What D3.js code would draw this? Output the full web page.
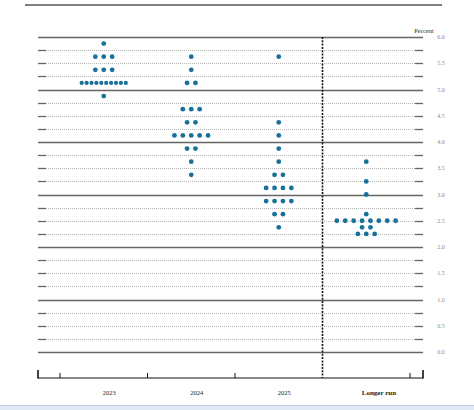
<!DOCTYPE html>
<html>
<head>
<meta charset="utf-8">
<script src="https://cdn.jsdelivr.net/npm/d3@7"></script>
<style>
  body { margin: 0; background: #fff; }
  svg { display: block; }
</style>
</head>
<body>
<div id="chart"></div>
<script>
// Categories on the x axis
const categories = ["2023", "2024", "2025", "Longer run"];

// One entry per participant dot (midpoint of target range, percent)
const rates2023 = [5.875, 5.625, 5.625, 5.625, 5.375, 5.375, 5.375,
    5.125, 5.125, 5.125, 5.125, 5.125, 5.125, 5.125, 5.125, 5.125, 5.125, 4.875];
const rates2024 = [5.625, 5.375, 5.125, 5.125, 4.625, 4.625, 4.625, 4.375, 4.375,
    4.125, 4.125, 4.125, 4.125, 4.125, 3.875, 3.875, 3.625, 3.375];
const rates2025 = [5.625, 4.375, 4.125, 3.875, 3.625, 3.375, 3.375,
    3.125, 3.125, 3.125, 3.125, 2.875, 2.875, 2.875, 2.875, 2.625, 2.625, 2.375];
const ratesLonger = [3.625, 3.25, 3.0, 2.625, 2.5, 2.5, 2.5, 2.5, 2.5, 2.5, 2.5, 2.5,
    2.375, 2.375, 2.25, 2.25, 2.25];

const seriesList = [rates2023, rates2024, rates2025, ratesLonger];

// Tick labels on the right
const tickValues = [0, 0.5, 1, 1.5, 2, 2.5, 3, 3.5, 4, 4.5, 5, 5.5, 6];
const tickLabels = ["0.0", "0.5", "1.0", "1.5", "2.0", "2.5", "3.0", "3.5", "4.0", "4.5", "5.0", "5.5", "6.0"];

const width = 474, height = 410;
const serif = "'Liberation Serif', 'DejaVu Serif', serif";
const dotColor = "#19709c";

const svg = d3.select("#chart")
    .append("svg")
    .attr("width", width)
    .attr("height", height);

// scales
const x = d3.scaleBand()
    .domain(categories)
    .range([60, 410])
    .padding(0);

const y = d3.scaleLinear()
    .domain([0, 6])
    .range([352, 37]);

const gridLeft = 38, gridRight = 423;

// top rule
svg.append("line")
    .attr("x1", 25).attr("x2", 442)
    .attr("y1", 5).attr("y2", 5)
    .attr("stroke", "#555")
    .attr("stroke-width", 1.5);

// grid lines every quarter point
const gridValues = d3.range(0, 24 + 1).map(i => i * 0.25);

const grid = svg.append("g");
gridValues.forEach(v => {
    const yy = Math.round(y(v)) + 0.5;
    if (Number.isInteger(v)) {
        grid.append("line")
            .attr("x1", gridLeft).attr("x2", gridRight)
            .attr("y1", yy).attr("y2", yy)
            .attr("stroke", "#666")
            .attr("stroke-width", 1.3);
    } else {
        grid.append("line")
            .attr("x1", gridLeft + 8).attr("x2", gridRight - 8)
            .attr("y1", yy).attr("y2", yy)
            .attr("stroke", "#a5a5a5")
            .attr("stroke-width", 0.8)
            .attr("stroke-dasharray", "1,1");
        // short dark ends
        [[gridLeft, gridLeft + 8], [gridRight - 8, gridRight]].forEach(e => {
            grid.append("line")
                .attr("x1", e[0]).attr("x2", e[1])
                .attr("y1", yy).attr("y2", yy)
                .attr("stroke", "#666")
                .attr("stroke-width", 1.3);
        });
    }
});

// right side labels
svg.append("g")
    .selectAll("text")
    .data(tickValues)
    .enter()
    .append("text")
    .attr("x", 441)
    .attr("y", d => y(d))
    .attr("text-anchor", "middle")
    .attr("dominant-baseline", "central")
    .attr("font-family", serif)
    .attr("font-size", 6)
    .attr("fill", "#8a8a8a")
    .text((d, i) => tickLabels[i]);

svg.append("text")
    .attr("x", 424)
    .attr("y", 33)
    .attr("text-anchor", "middle")
    .attr("font-family", serif)
    .attr("font-size", 6.5)
    .attr("fill", "#333")
    .text("Percent");

// bottom axis
const axisY = 378;
svg.append("line")
    .attr("x1", gridLeft).attr("x2", gridRight)
    .attr("y1", axisY).attr("y2", axisY)
    .attr("stroke", "#111")
    .attr("stroke-width", 1);

[gridLeft, gridRight].forEach(xx => {
    svg.append("line")
        .attr("x1", xx).attr("x2", xx)
        .attr("y1", axisY - 8).attr("y2", axisY + 0.5)
        .attr("stroke", "#111")
        .attr("stroke-width", 1.6);
});

// band boundary ticks (the one before "Longer run" is the dashed divider)
const boundaries = categories.map(c => x(c)).concat([x.range()[1]]);
boundaries.forEach(b => {
    if (b === x("Longer run")) return;
    svg.append("line")
        .attr("x1", b).attr("x2", b)
        .attr("y1", axisY - 5).attr("y2", axisY)
        .attr("stroke", "#111")
        .attr("stroke-width", 1);
});

// dashed divider
svg.append("line")
    .attr("x1", x("Longer run")).attr("x2", x("Longer run"))
    .attr("y1", y(6)).attr("y2", axisY)
    .attr("stroke", "#111")
    .attr("stroke-width", 1.6)
    .attr("stroke-dasharray", "2,1.3");

// category labels
svg.append("g")
    .selectAll("text")
    .data(categories)
    .enter()
    .append("text")
    .attr("x", d => x(d) + x.bandwidth() / 2 - (d === "Longer run" ? 4.5 : 1))
    .attr("y", 395)
    .attr("font-family", serif)
    .attr("font-size", d => d === "Longer run" ? 7 : 6.5)
    .attr("font-weight", d => d === "Longer run" ? "bold" : "normal")
    .attr("fill", "#222")
    .text(d => d);

// Add the dots, rows centred on each column
const dots = [];
seriesList.forEach((rates, ci) => {
    const rows = d3.group(rates, r => r);
    rows.forEach((vals, v) => {
        const n = vals.length;
        const step = n >= 10 ? 4.9 : 8.4;
        vals.forEach((val, i) => {
            dots.push({
                cat: categories[ci],
                value: val,
                offset: (i - (n - 1) / 2) * step,
                dense: n >= 10
            });
        });
    });
});

svg.append("g")
    .selectAll("circle")
    .data(dots)
    .enter()
    .append("circle")
    .attr("cx", d => x(d.cat) + x.bandwidth() / 2 + d.offset)
    .attr("cy", d => y(d.value))
    .attr("r", d => d.dense ? 2.1 : 2.4)
    .attr("fill", dotColor);

// bottom strip
svg.append("rect")
    .attr("x", 0).attr("y", 405)
    .attr("width", width).attr("height", 5)
    .attr("fill", "#e0e8f6");
svg.append("line")
    .attr("x1", 0).attr("x2", width)
    .attr("y1", 405.5).attr("y2", 405.5)
    .attr("stroke", "#bccbe8")
    .attr("stroke-width", 1);
</script>
</body>
</html>
